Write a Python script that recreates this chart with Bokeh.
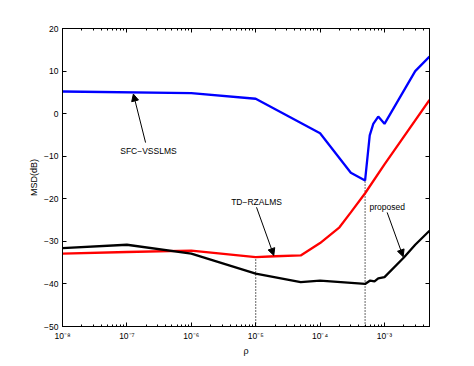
from bokeh.plotting import figure
from bokeh.embed import file_html
from bokeh.resources import INLINE
from bokeh.models import (LogAxis, LinearAxis, Arrow, NormalHead, Label,
                          CustomJSTickFormatter, LogTicker, FixedTicker)

# ---- data ----
rho_sfc = [1e-8, 1e-6, 1e-5, 1e-4, 3e-4, 5e-4, 5.9e-4, 6.7e-4, 8e-4, 1e-3, 3e-3, 5e-3]
msd_sfc = [5.2, 4.8, 3.5, -4.6, -13.9, -15.7, -5.1, -2.4, -0.7, -2.4, 10.0, 13.4]

rho_td = [1e-8, 1e-7, 1e-6, 1e-5, 2e-5, 5e-5, 1e-4, 2e-4, 3e-4, 5e-4, 1e-3, 5e-3]
msd_td = [-32.9, -32.5, -32.2, -33.7, -33.5, -33.3, -30.4, -26.7, -23.2, -18.7, -11.9, 3.2]

rho_prop = [1e-8, 1e-7, 1e-6, 1e-5, 5e-5, 1e-4, 5e-4, 6e-4, 7e-4, 8e-4, 1e-3, 2e-3, 3e-3, 5e-3]
msd_prop = [-31.6, -30.8, -32.9, -37.6, -39.6, -39.2, -40.0, -39.2, -39.4, -38.7, -38.4, -33.8, -30.8, -27.5]

y_ticks = [-50, -40, -30, -20, -10, 0, 10, 20]
x_label = "ρ"
y_label = "MSD(dB)"
names = ["SFC−VSSLMS", "TD−RZALMS", "proposed"]

FONT = "Liberation Sans"

p = figure(width=466, height=358, x_axis_type="log",
           x_range=(1e-8, 5e-3), y_range=(-50, 20),
           output_backend="svg", toolbar_location=None,
           min_border_left=62, min_border_right=37,
           min_border_top=28, min_border_bottom=32)
p.grid.visible = False
p.background_fill_color = "white"
p.border_fill_color = "white"
p.outline_line_color = "black"

sup = CustomJSTickFormatter(code="""
const m = {'-':'\u207b','0':'\u2070','1':'\u00b9','2':'\u00b2','3':'\u00b3','4':'\u2074','5':'\u2075','6':'\u2076','7':'\u2077','8':'\u2078','9':'\u2079'};
const e = String(Math.round(Math.log10(tick)));
let s = '';
for (const c of e) s += m[c];
return '10' + s;
""")
blank = CustomJSTickFormatter(code="return '';")

def style(ax):
    ax.major_tick_in = 4
    ax.major_tick_out = 0
    ax.minor_tick_in = 2
    ax.minor_tick_out = 0
    ax.axis_line_color = "black"
    ax.major_tick_line_color = "black"
    ax.minor_tick_line_color = "black"
    ax.major_label_text_font = FONT
    ax.major_label_text_font_size = "8.5px"
    ax.major_label_text_color = "black"
    ax.axis_label_text_font = FONT
    ax.axis_label_text_font_size = "9px"
    ax.axis_label_text_font_style = "normal"
    ax.axis_label_text_color = "black"

xa = p.xaxis[0]
xa.ticker = LogTicker(num_minor_ticks=10)
xa.formatter = sup
xa.axis_label = x_label
xa.major_label_standoff = 4
xa.axis_label_standoff = 2
style(xa)

ya = p.yaxis[0]
ya.ticker = FixedTicker(ticks=y_ticks)
ya.axis_label = y_label
ya.major_label_standoff = 4
ya.axis_label_standoff = 2
style(ya)
ya.minor_tick_in = 0

top = LogAxis(ticker=LogTicker(num_minor_ticks=10), formatter=blank,
              major_label_standoff=0)
style(top)
p.add_layout(top, "above")

right = LinearAxis(ticker=FixedTicker(ticks=y_ticks), formatter=blank,
                   major_label_standoff=0)
style(right)
right.minor_tick_in = 0
p.add_layout(right, "right")

# dotted guide lines
i_td = rho_td.index(1e-5)
i_sfc = rho_sfc.index(5e-4)
p.segment(x0=[rho_td[i_td], rho_sfc[i_sfc]], y0=[-50, -50],
          x1=[rho_td[i_td], rho_sfc[i_sfc]], y1=[msd_td[i_td], msd_sfc[i_sfc]],
          line_color="black", line_width=1.2, line_dash="1 2")

p.line(rho_sfc, msd_sfc, line_color="#0000ff", line_width=2.3)
p.line(rho_td, msd_td, line_color="#ff0000", line_width=2.3)
p.line(rho_prop, msd_prop, line_color="black", line_width=2.3)

# annotations
ann = [
    (names[0], 2.16e-7, -8.7, 1.95e-7, -6.8, 1.26e-7, 4.6),
    (names[1], 1.03e-5, -20.8, 1.03e-5, -22.0, 1.91e-5, -33.3),
    (names[2], 1.1e-3, -22.0, 1.1e-3, -23.2, 1.95e-3, -33.6),
]
for txt, tx, ty, ax0, ay0, ax1, ay1 in ann:
    p.add_layout(Label(x=tx, y=ty, text=txt, text_font=FONT,
                       text_font_size="8.5px", text_align="center",
                       text_baseline="middle", text_color="black"))
    p.add_layout(Arrow(x_start=ax0, y_start=ay0, x_end=ax1, y_end=ay1,
                       line_color="black", line_width=1,
                       end=NormalHead(size=7, fill_color="black",
                                      line_color="black")))

open("out.html", "w").write(file_html(p, INLINE))
